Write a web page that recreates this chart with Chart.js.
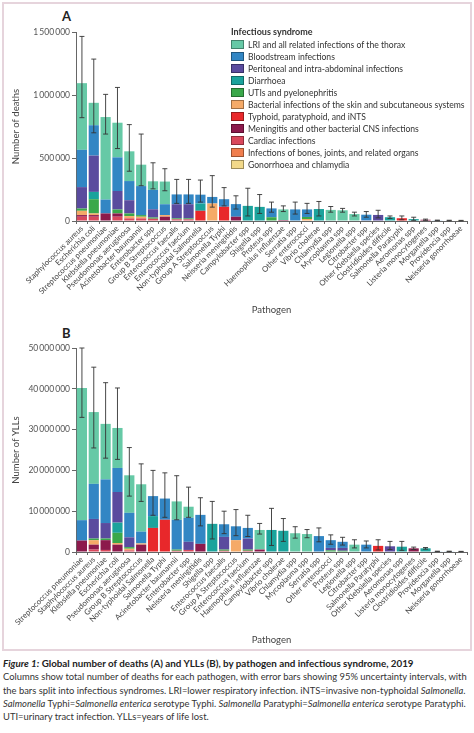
<!DOCTYPE html>
<html><head><meta charset="utf-8">
<script src="https://cdn.jsdelivr.net/npm/chart.js@4.4.1/dist/chart.umd.min.js"></script>
<style>
body{margin:0;width:474px;height:733px;background:#fff;font-family:Lato,"Open Sans",sans-serif;position:relative;overflow:hidden}
#frame{position:absolute;left:2px;top:2px;width:466px;height:645px;border:2px solid #e6d4dc}
.pl{position:absolute;font-weight:bold;font-size:13px;color:#222}
canvas{position:absolute;left:0}
#legend{position:absolute;left:231px;top:26px;font-size:8.6px;color:#333;line-height:12px}
#legend .t{font-weight:bold;font-size:9px;margin-bottom:1px}
#legend .i{white-space:nowrap}
#legend .s{display:inline-block;width:11px;height:7px;margin-right:4px;vertical-align:-1px;border:1px solid rgba(0,0,0,.35)}
#cap{position:absolute;left:3px;top:657px;font-size:9.4px;color:#333;line-height:13.3px;white-space:nowrap}
#cap b{font-size:9.8px;color:#222}
</style></head><body>
<div id="frame"></div>
<div class="pl" style="left:62px;top:8px">A</div>
<div class="pl" style="left:62px;top:325px">B</div>
<canvas id="ca" width="474" height="320" style="top:0;width:474px;height:320px"></canvas>
<canvas id="cb" width="474" height="316" style="top:334px;width:474px;height:316px"></canvas>
<div id="legend"></div>
<div id="cap"><b><i>Figure 1:</i> Global number of deaths (A) and YLLs (B), by pathogen and infectious syndrome, 2019</b><br>
Columns show total number of deaths for each pathogen, with error bars showing 95% uncertainty intervals, with<br>
the bars split into infectious syndromes. LRI=lower respiratory infection. iNTS=invasive non-typhoidal <i>Salmonella</i>.<br>
<i>Salmonella</i> Typhi=<i>Salmonella enterica</i> serotype Typhi. <i>Salmonella</i> Paratyphi=<i>Salmonella enterica</i> serotype Paratyphi.<br>
UTI=urinary tract infection. YLLs=years of life lost.</div>
<script>
const syndromes=["LRI and all related infections of the thorax","Bloodstream infections","Peritoneal and intra-abdominal infections","Diarrhoea","UTIs and pyelonephritis","Bacterial infections of the skin and subcutaneous systems","Typhoid, paratyphoid, and iNTS","Meningitis and other bacterial CNS infections","Cardiac infections","Infections of bones, joints, and related organs","Gonorrhoea and chlamydia"];
const colors=["#66c9a6","#3286c4","#5a4b9e","#1ba39c","#3aa84a","#f5aa68","#e8282b","#8c1a4c","#d9485c","#f07e4e","#f2d98a"];
const pathogensA=["Staphylococcus aureus","Escherichia coli","Streptococcus pneumoniae","Klebsiella pneumoniae","Pseudomonas aeruginosa","Acinetobacter baumannii","Enterobacter spp","Group B Streptococcus","Enterococcus faecalis","Enterococcus faecium","Non-typhoidal Salmonella","Group A Streptococcus","Salmonella Typhi","Neisseria meningitidis","Campylobacter spp","Shigella spp","Proteus spp","Haemophilus influenzae","Serratia spp","Other enterococci","Vibrio cholerae","Chlamydia spp","Mycoplasma spp","Legionella spp","Citrobacter spp","Other Klebsiella species","Clostridioides difficile","Salmonella Paratyphi","Aeromonas spp","Listeria monocytogenes","Morganella spp","Providencia spp","Neisseria gonorrhoeae"];
// deaths, thousands
const deathsLRI  =[529,178,655,275,236,170,68,180,0,0,0,0,0,0,0,0,0,84,0,0,0,88,85,55,0,0,0,0,0,0,0,0,0];
const deathsBlood=[296,241,110,267,152,230,154,86,78,78,70,52,60,100,0,0,70,0,92,60,0,0,0,0,45,0,0,0,0,0,5,4,0];
const deathsPerit=[170,288,0,147,105,0,65,0,112,112,0,0,0,0,0,0,0,0,0,0,0,0,0,0,5,48,0,0,0,0,0,0,0];
const deathsDiarr=[0,58,0,0,0,0,0,0,0,0,58,0,0,0,120,112,0,0,0,0,95,0,0,0,0,0,30,0,15,0,0,0,0];
const deathsUTI  =[18,113,0,31,21,13,10,0,8,8,0,0,0,0,0,0,30,0,0,16,0,0,0,0,0,0,0,0,0,0,0,0,0];
const deathsSkin =[34,13,0,0,18,13,0,13,0,0,0,139,0,0,0,0,0,0,0,16,0,0,0,0,0,0,0,0,0,0,0,0,0];
const deathsTyph =[0,0,0,0,0,0,0,0,0,0,81,0,113,0,0,0,0,0,0,0,0,0,0,0,0,0,0,22,0,0,0,0,0];
const deathsMenin=[13,13,60,26,0,0,0,34,0,0,0,0,0,34,0,0,0,8,0,0,0,0,0,0,0,0,0,0,0,10,0,0,0];
const deathsCard =[34,34,0,34,21,21,18,0,13,13,0,0,0,0,0,0,0,0,0,0,0,0,0,0,0,0,0,0,0,0,0,0,0];
const deathsBones=[0,0,0,0,0,0,0,0,0,0,0,0,0,0,0,0,0,0,0,0,0,0,0,0,0,0,0,0,0,0,0,0,0];
const deathsGono =[0,0,0,0,0,0,0,0,0,0,0,0,0,0,0,0,0,0,0,0,0,0,0,0,0,0,0,0,0,0,0,0,3];
const deathsLow  =[820,700,690,575,395,280,255,240,140,140,150,110,120,95,40,60,70,75,55,60,40,70,70,40,30,25,20,10,5,5,3,2,1];
const deathsHigh =[1465,1285,1005,1060,765,690,462,415,330,330,325,360,265,200,260,210,150,120,150,140,155,115,100,70,75,85,40,40,30,15,7,6,5];
const ticksA=[0,500000,1000000,1500000];

const pathogensB=["Streptococcus pneumoniae","Staphylococcus aureus","Klebsiella pneumoniae","Escherichia coli","Pseudomonas aeruginosa","Group B Streptococcus","Non-typhoidal Salmonella","Salmonella Typhi","Acinetobacter baumannii","Enterobacter spp","Neisseria meningitidis","Shigella spp","Enterococcus faecalis","Group A Streptococcus","Enterococcus faecium","Haemophilus influenzae","Campylobacter spp","Vibrio cholerae","Chlamydia spp","Mycoplasma spp","Serratia spp","Other enterococci","Proteus spp","Legionella spp","Citrobacter spp","Salmonella Paratyphi","Other Klebsiella species","Aeromonas spp","Listeria monocytogenes","Clostridioides difficile","Providencia spp","Morganella spp","Neisseria gonorrhoeae"];
// YLLs, millions
const yllLRI  =[32.4,17.6,13.6,9.8,9.2,11.6,0,0,4.5,2.7,0,0,0,0,0,4.8,0,0,4.6,4.4,0,0,0,1.8,0,0,0,0,0,0,0,0,0];
const yllBlood=[5.0,8.6,10.7,5.9,6.0,2.9,4.9,5.2,7.3,5.9,7.1,0,3.1,3.4,2.6,0,0,0,0,0,3.9,1.9,1.5,0,1.8,0,0,0,0,0,0.15,0.15,0];
const yllPerit=[0,4.8,3.8,7.5,2.4,0,0,0,0,2.0,0,0,3.1,0,2.7,0,0,0,0,0,0,0.6,0.7,0,0,0,1.4,0,0,0,0,0,0];
const yllDiarr=[0,0,0,2.5,0,0,2.9,0,0,0,0,6.9,0,0,0,0,5.4,5.2,0,0,0,0,0,0,0,0,0,1.3,0,0.9,0,0,0];
const yllUTI  =[0,0.4,0.4,2.5,0.4,0,0,0,0.3,0,0,0,0.3,0,0.3,0,0,0,0,0,0,0.4,0.3,0,0,0,0,0,0,0,0,0,0];
const yllSkin =[0,1.1,0,0.4,0.4,0.3,0,0,0,0,0,0,0,2.9,0,0,0,0,0,0,0,0,0,0,0,0,0,0,0,0,0,0,0];
const yllTyph =[0,0,0,0,0,0,5.9,7.9,0,0,0,0,0,0,0,0,0,0,0,0,0,0,0,0,0,1.5,0,0,0,0,0,0,0];
const yllMenin=[2.8,1.2,2.4,1.8,0,1.8,0,0,0,0,2.0,0,0,0,0,0.6,0,0,0,0,0,0,0,0,0,0,0,0,0.9,0,0,0,0];
const yllCard =[0,0.6,0.5,0,0.4,0,0,0,0.3,0.5,0,0,0.3,0,0.3,0,0,0,0,0,0,0,0,0,0,0,0,0,0,0,0,0,0];
const yllBones=[0,0,0,0,0,0,0,0,0,0,0,0,0,0,0,0,0,0,0,0,0,0,0,0,0,0,0,0,0,0,0,0,0];
const yllGono =[0,0,0,0,0,0,0,0,0,0,0,0,0,0,0,0,0,0,0,0,0,0,0,0,0,0,0,0,0,0,0,0,0.12];
const yllLow  =[33,25.5,23,22.7,13.7,12.4,9,8.5,7.9,8.5,6.4,3.2,4.5,4.0,3.8,4.4,1.6,2.6,3.4,3.5,2.5,1.9,1.7,1.0,1.0,0.5,0.6,0.4,0.6,0.7,0.1,0.1,0.08];
const yllHigh =[50,45.3,41.5,40.2,25.6,21.6,20,19.4,18.7,15.9,13.3,12.4,10,10.4,9.0,7.0,10.7,8.2,6.2,5.5,5.9,4.2,3.6,3.0,2.7,3.0,2.6,2.6,1.2,1.1,0.2,0.2,0.16];
const ticksB=[0,10000000,20000000,30000000,40000000,50000000];

const lg=document.getElementById('legend');
lg.innerHTML='<div class="t">Infectious syndrome</div>'+syndromes.map((s,i)=>`<div class="i"><span class="s" style="background:${colors[i]}"></span>${s}</div>`).join('');

const fmt=v=>String(v).replace(/\B(?=(\d{3})+(?!\d))/g,'\u2009');
const stackOrder=[8,7,9,10,6,5,4,3,2,1,0];
function build(id,labels,series,unit,low,high,ticks,ytitle,padTop,xh){
  const ds=stackOrder.map(k=>({label:syndromes[k],data:series[k].map(v=>v*unit),backgroundColor:colors[k],
    borderWidth:0,barPercentage:0.86,categoryPercentage:1,stack:'s'}));
  const err={id:'err',afterDatasetsDraw(c){
    const x=c.scales.x,y=c.scales.y,ctx=c.ctx;ctx.save();ctx.strokeStyle='#333';ctx.lineWidth=0.9;
    low.forEach((lo,i)=>{const px=x.getPixelForValue(i),a=y.getPixelForValue(lo*unit),b=y.getPixelForValue(high[i]*unit);
      ctx.beginPath();ctx.moveTo(px,a);ctx.lineTo(px,b);ctx.moveTo(px-2.5,a);ctx.lineTo(px+2.5,a);ctx.moveTo(px-2.5,b);ctx.lineTo(px+2.5,b);ctx.stroke();});
    ctx.restore();}};
  new Chart(document.getElementById(id),{type:'bar',data:{labels,datasets:ds},plugins:[err],
   options:{responsive:false,animation:false,devicePixelRatio:1,
    layout:{padding:{top:padTop,right:7,left:10,bottom:0}},
    plugins:{legend:{display:false},tooltip:{enabled:false}},
    scales:{
     x:{stacked:true,grid:{drawOnChartArea:false,tickLength:3,color:'#666'},border:{color:'#666'},
        ticks:{autoSkip:false,minRotation:45,maxRotation:45,padding:0,color:'#444',font:{family:'Lato',size:7.8}},
        title:{display:true,text:'Pathogen',color:'#444',font:{family:'Lato',size:9.5},padding:{top:2,bottom:4}},
        afterFit(s){s.height=xh;}},
     y:{stacked:true,min:0,max:ticks[ticks.length-1],afterBuildTicks(s){s.ticks=ticks.map(v=>({value:v}));},
        grid:{drawOnChartArea:false,tickLength:4,color:'#666'},border:{color:'#666'},
        ticks:{color:'#555',font:{family:'Lato',size:8.5},callback:v=>fmt(v),padding:2},
        title:{display:true,text:ytitle,color:'#444',font:{family:'Lato',size:9.5},padding:{top:0,bottom:4}},
        afterFit(s){s.width=66;}}
    }}});
}
build('ca',pathogensA,[deathsLRI,deathsBlood,deathsPerit,deathsDiarr,deathsUTI,deathsSkin,deathsTyph,deathsMenin,deathsCard,deathsBones,deathsGono],1000,deathsLow,deathsHigh,ticksA,'Number of deaths',32,99);
build('cb',pathogensB,[yllLRI,yllBlood,yllPerit,yllDiarr,yllUTI,yllSkin,yllTyph,yllMenin,yllCard,yllBones,yllGono],1000000,yllLow,yllHigh,ticksB,'Number of YLLs',14,98);
</script></body></html>
